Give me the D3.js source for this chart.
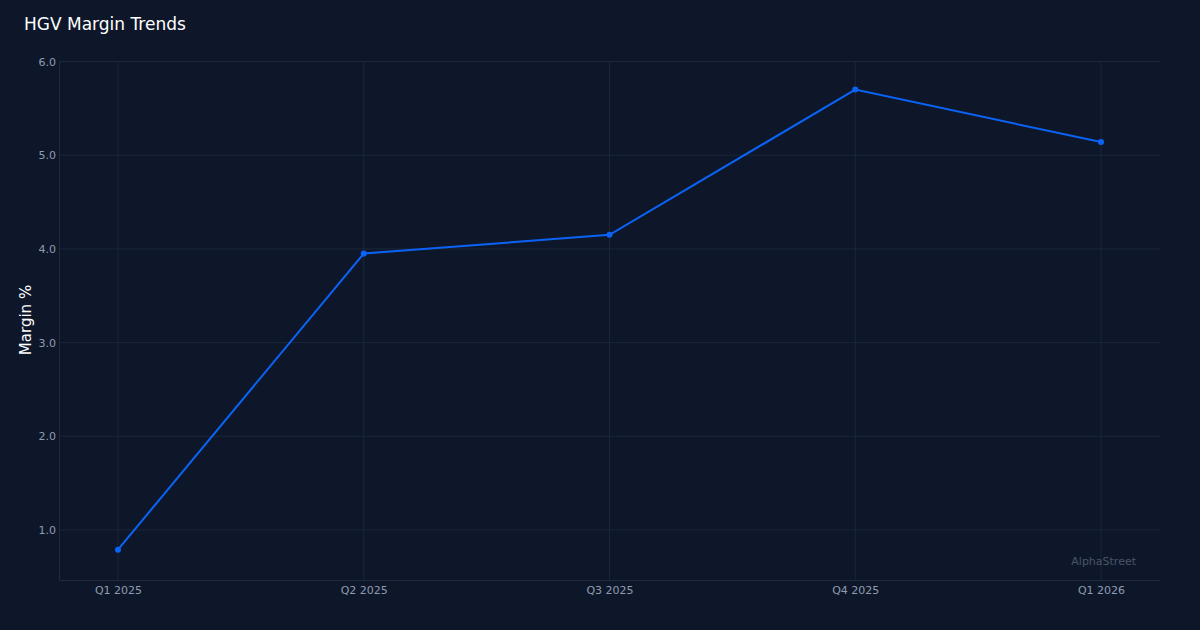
<!DOCTYPE html>
<html><head><meta charset="utf-8">
<script src="https://cdn.jsdelivr.net/npm/d3@7"></script>
<style>body{margin:0;background:#0e172a;}svg{display:block;font-family:"DejaVu Sans",sans-serif;}</style>
</head><body>
<svg width="1200" height="630"></svg>
<script>
var quarters = ['Q1 2025', 'Q2 2025', 'Q3 2025', 'Q4 2025', 'Q1 2026'],
	margins = [0.79, 3.95, 4.15, 5.70, 5.14],
	yTicks = [1, 2, 3, 4, 5, 6],
	svg = d3.select('svg');

var plotLeft = 59, plotRight = 1160, plotTop = 61.5, plotBottom = 580;

var x = d3.scalePoint().domain(quarters).range([plotLeft, plotRight]).padding(0.24);
var y = d3.scaleLinear().domain([0.466, 6]).range([plotBottom, plotTop]);

svg.append('rect').attr('width', 1200).attr('height', 630).attr('fill', '#0e172a');

// grid
svg.append('g').selectAll('line').data(yTicks).join('line')
	.attr('x1', plotLeft).attr('x2', plotRight)
	.attr('y1', d => y(d)).attr('y2', d => y(d))
	.attr('stroke', '#1b2638').attr('stroke-width', 1);
svg.append('g').selectAll('line').data(quarters).join('line')
	.attr('x1', d => x(d)).attr('x2', d => x(d))
	.attr('y1', plotTop).attr('y2', plotBottom)
	.attr('stroke', '#1b2638').attr('stroke-width', 1);

// axes
var ya = svg.append('g').attr('transform', 'translate(' + plotLeft + ',0)')
	.call(d3.axisLeft(y).tickValues(yTicks).tickSize(0).tickPadding(3));
var xa = svg.append('g').attr('transform', 'translate(0,' + plotBottom + ')')
	.call(d3.axisBottom(x).tickSize(0).tickPadding(6));
[ya, xa].forEach(function(a){
	a.select('.domain').attr('stroke', '#1f2a3c');
	a.selectAll('text').attr('fill', '#8f9bb0').attr('font-size', 11).attr('font-family', '"DejaVu Sans",sans-serif');
});

// line
svg.append('path').datum(margins)
	.attr('fill', 'none').attr('stroke', '#0b63f6').attr('stroke-width', 2)
	.attr('d', d3.line().x((d, i) => x(quarters[i])).y(d => y(d)));
svg.append('g').selectAll('circle').data(margins).join('circle')
	.attr('cx', (d, i) => x(quarters[i])).attr('cy', d => y(d)).attr('r', 3)
	.attr('fill', '#0b63f6');

// text
svg.append('text').attr('x', 24).attr('y', 30).attr('fill', '#ffffff')
	.attr('font-size', 17).text('HGV Margin Trends');
svg.append('text').attr('transform', 'translate(31,320) rotate(-90)')
	.attr('text-anchor', 'middle').attr('fill', '#ffffff').attr('font-size', 15).text('Margin %');
svg.append('text').attr('x', 1136).attr('y', 565).attr('text-anchor', 'end')
	.attr('fill', '#4a5568').attr('font-size', 11).text('AlphaStreet');
</script>
</body></html>
